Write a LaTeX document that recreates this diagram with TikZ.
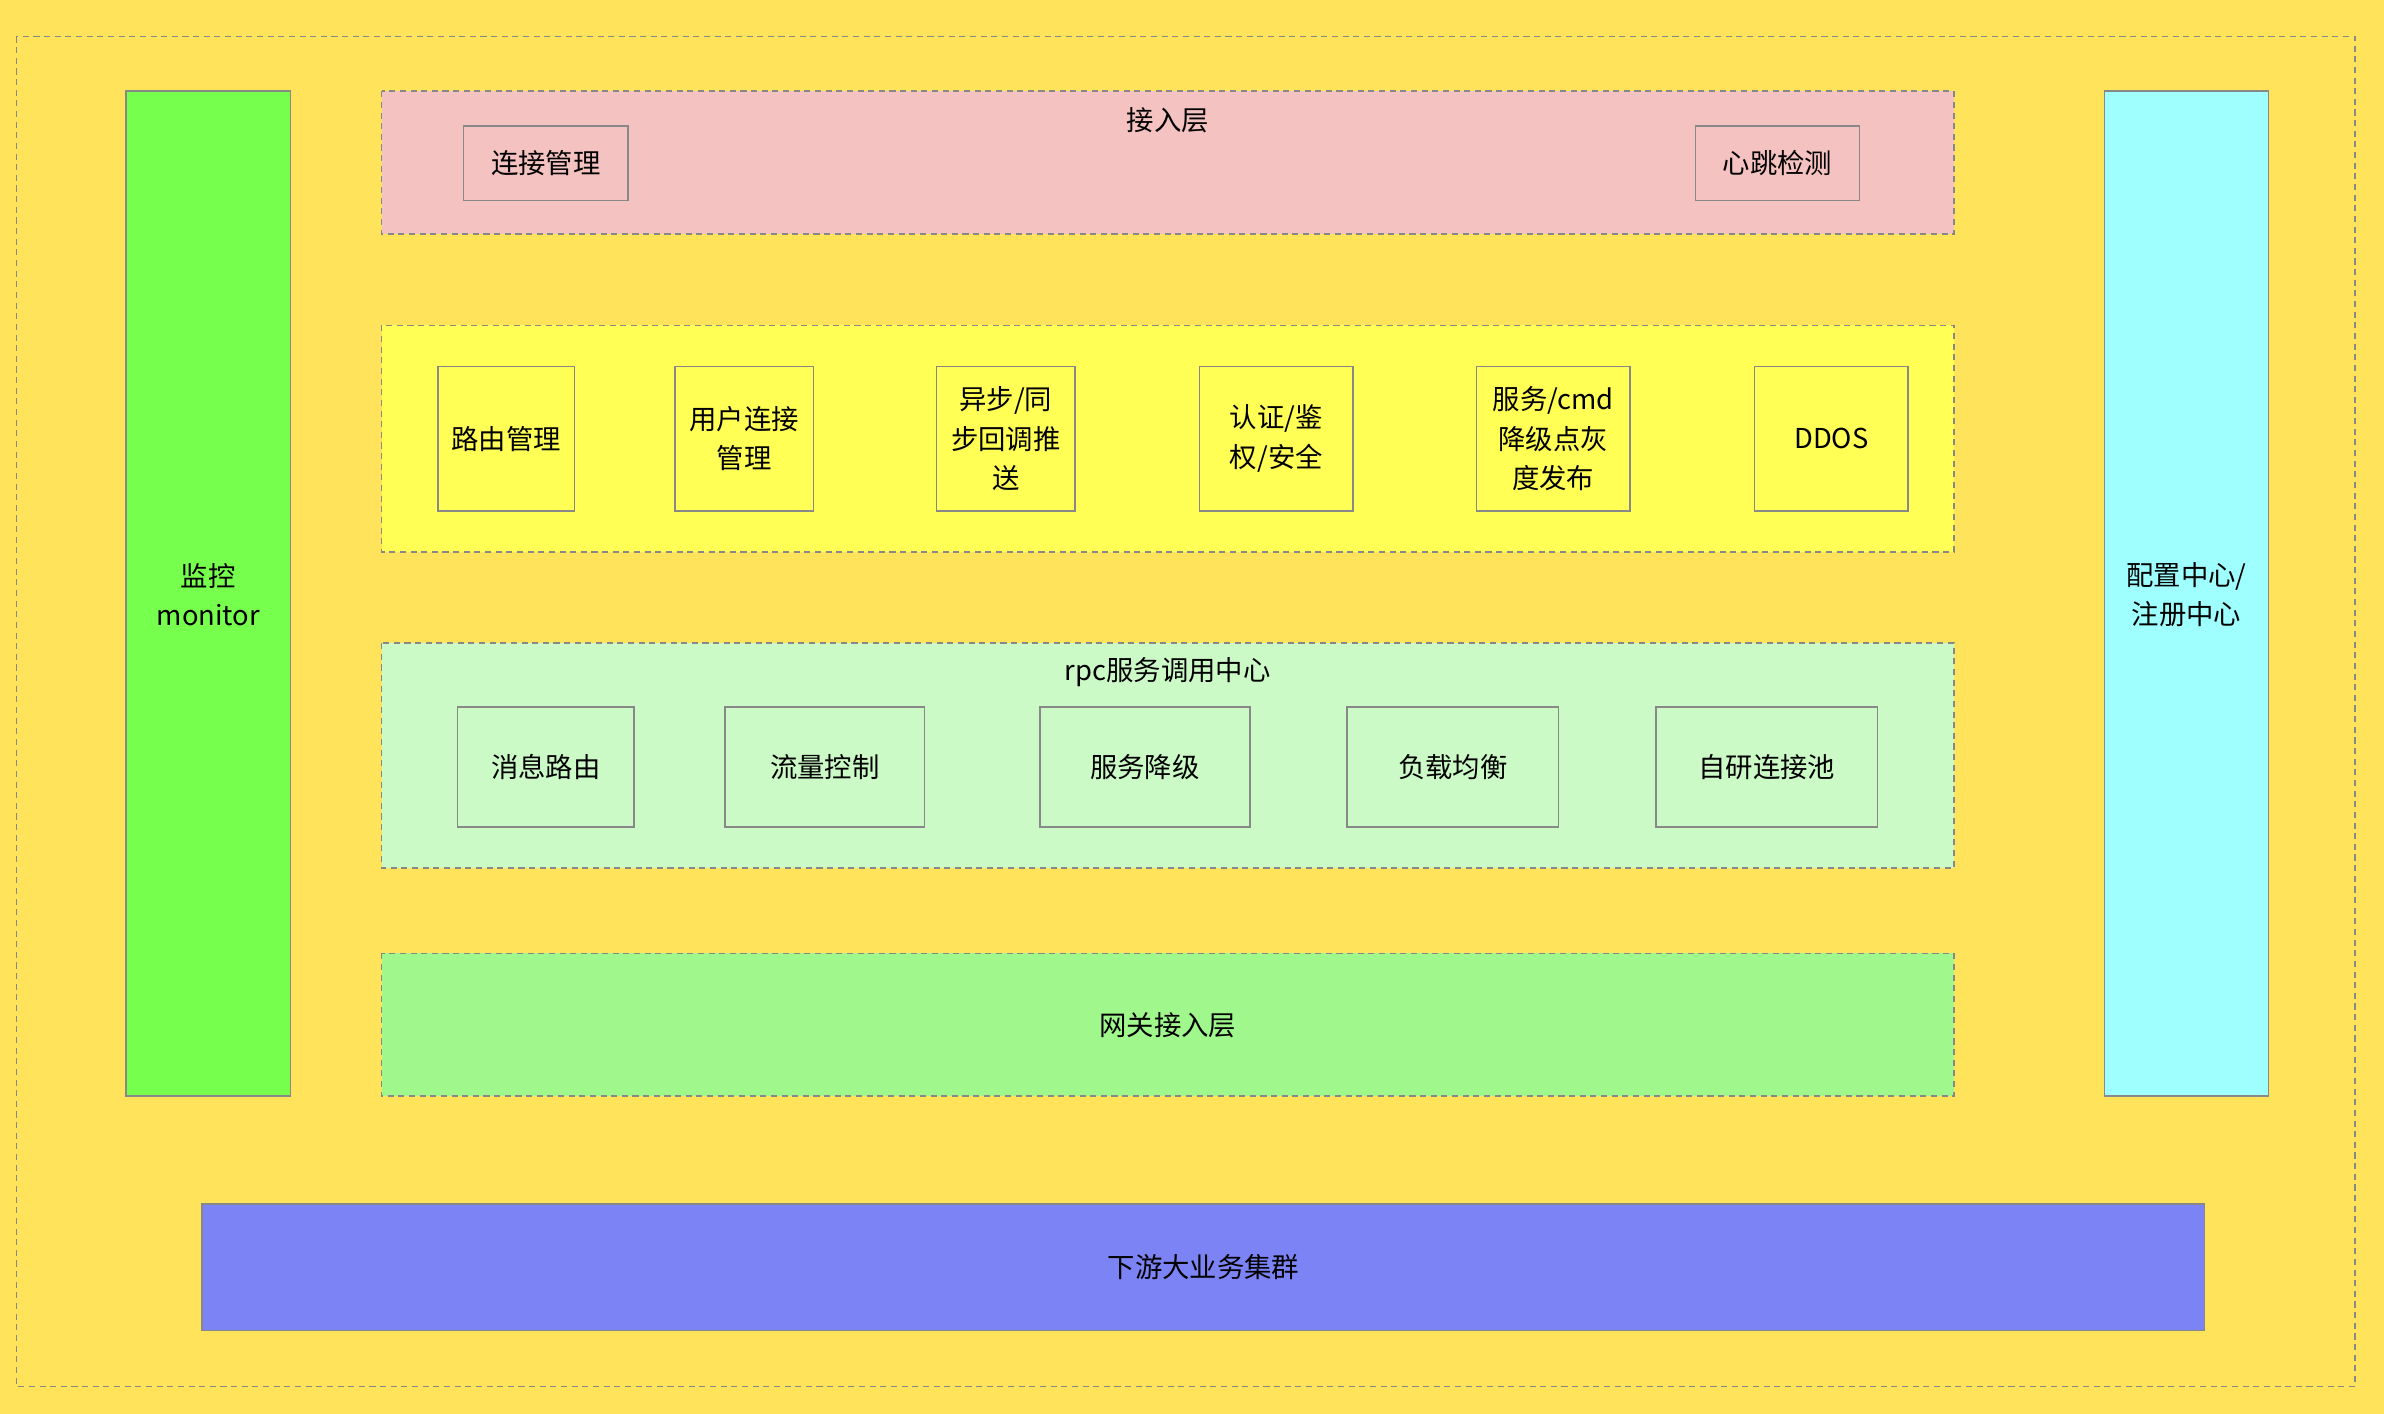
\documentclass[tikz,border=0pt]{standalone}
\usepackage{fontspec}
\setmainfont{Noto Sans CJK SC}
\definecolor{bg}{HTML}{FFE35A}
\definecolor{mon}{HTML}{76FF4C}
\definecolor{cfg}{HTML}{9FFFFF}
\definecolor{pk}{HTML}{F4C2C0}
\definecolor{yl}{HTML}{FFFF55}
\definecolor{lg}{HTML}{CCFAC6}
\definecolor{gw}{HTML}{A0F88C}
\definecolor{bl}{HTML}{7C83F5}
\definecolor{ln}{HTML}{888888}
\begin{document}
\begin{tikzpicture}[x=1pt,y=-1pt,font=\fontsize{18}{26}\selectfont,
 blk/.style={draw=ln,line width=1pt},
 grp/.style={draw=ln,line width=1pt,dash pattern=on 4pt off 3pt},
 lbl/.style={align=center,inner sep=0pt}]
\fill[bg] (0,0) rectangle (1568,930);
\useasboundingbox (0,0) rectangle (1568,930);
\draw[grp] (11,24) rectangle (1549,912);
\draw[blk,fill=mon] (83,60) rectangle (191,721);
\node[lbl] (mon) at (137,391) {监控\\monitor};
\draw[blk,fill=cfg] (1384,60) rectangle (1492,721);
\node[lbl] (cfg) at (1438,391) {配置中心/\\注册中心};
% access layer
\draw[grp,fill=pk] (251,60) rectangle (1285,154);
\node[lbl] (t1) at (768,79) {接入层};
\draw[blk] (305,83) rectangle (413,132); \node[lbl] (a1) at (359,107) {连接管理};
\draw[blk] (1115,83) rectangle (1223,132); \node[lbl] (a2) at (1169,107) {心跳检测};
% yellow
\draw[grp,fill=yl] (251,214) rectangle (1285,363);
\foreach \x/\w/\t [count=\i] in {288/378/{路由管理},444/535/{用户连接\\管理},616/707/{异步/同\\步回调推\\送},789/890/{认证/鉴\\权/安全},971/1072/{服务/cmd\\降级点灰\\度发布},1154/1255/{DDOS}}{
 \draw[blk] (\x,241) rectangle (\w,336);
 \node[lbl] (y\i) at ({(\x+\w)/2},288.5) {\t};
}
% rpc
\draw[grp,fill=lg] (251,423) rectangle (1285,571);
\node[lbl] (t3) at (768,442) {rpc服务调用中心};
\foreach \x/\w/\t [count=\i] in {301/417/消息路由,477/608/流量控制,684/822/服务降级,886/1025/负载均衡,1089/1235/自研连接池}{
 \draw[blk] (\x,465) rectangle (\w,544);
 \node[lbl] (r\i) at ({(\x+\w)/2},504.5) {\t};
}
\draw[grp,fill=gw] (251,627) rectangle (1285,721);
\node[lbl] (gw) at (768,674) {网关接入层};
\draw[blk,fill=bl] (133,792) rectangle (1450,875);
\node[lbl] (ds) at (791.5,833.5) {下游大业务集群};
\end{tikzpicture}
\end{document}
